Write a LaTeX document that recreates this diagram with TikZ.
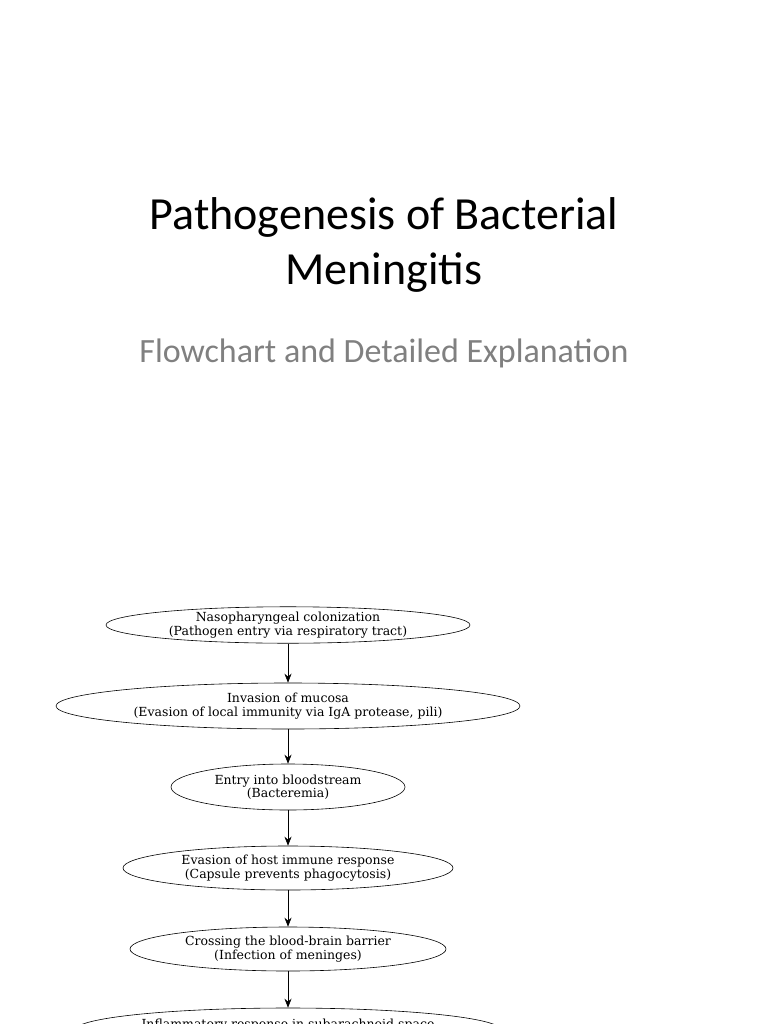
\documentclass[tikz,border=0pt]{standalone}
\usepackage{fontspec}
\setmainfont{Carlito}
\newfontfamily\flowfont{DejaVu Serif}
\usetikzlibrary{shapes.geometric,arrows.meta}

\begin{document}
\begin{tikzpicture}[x=1pt,y=-1pt]

	\tikzset{step box/.style={ellipse, draw, semithick, inner sep=0pt, align=center,
		font=\flowfont\fontsize{12.5}{13.5}\selectfont}};
	\tikzset{flow line/.style={-{Stealth[length=9pt,width=7pt]}, semithick}};

	\useasboundingbox (0,0) rectangle (768,1024);
	\clip (0,0) rectangle (768,1024);

	\node[font=\fontsize{46}{55}\selectfont, align=center] (title) at (384,245)
		{Pathogenesis of Bacterial\\Meningitis};
	\node[font=\fontsize{34}{38}\selectfont, text=gray] (subtitle) at (384,353)
		{Flowchart and Detailed Explanation};

	\node[step box, minimum width=364, minimum height=34] (colon) at (288,625)
		{Nasopharyngeal colonization\\(Pathogen entry via respiratory tract)};
	\node[step box, minimum width=464, minimum height=46] (mucosa) at (288,706)
		{Invasion of mucosa\\(Evasion of local immunity via IgA protease, pili)};
	\node[step box, minimum width=234, minimum height=46] (blood) at (288,787)
		{Entry into bloodstream\\(Bacteremia)};
	\node[step box, minimum width=330, minimum height=44] (evasion) at (288,868)
		{Evasion of host immune response\\(Capsule prevents phagocytosis)};
	\node[step box, minimum width=316, minimum height=44] (bbb) at (288,949)
		{Crossing the blood-brain barrier\\(Infection of meninges)};
	\node[step box, minimum width=426, minimum height=44] (inflam) at (288,1030)
		{Inflammatory response in subarachnoid space\\ };

	\foreach \a/\b in {colon/mucosa,mucosa/blood,blood/evasion,evasion/bbb,bbb/inflam}
		\draw[flow line] (\a) -- (\b);

\end{tikzpicture}
\end{document}
